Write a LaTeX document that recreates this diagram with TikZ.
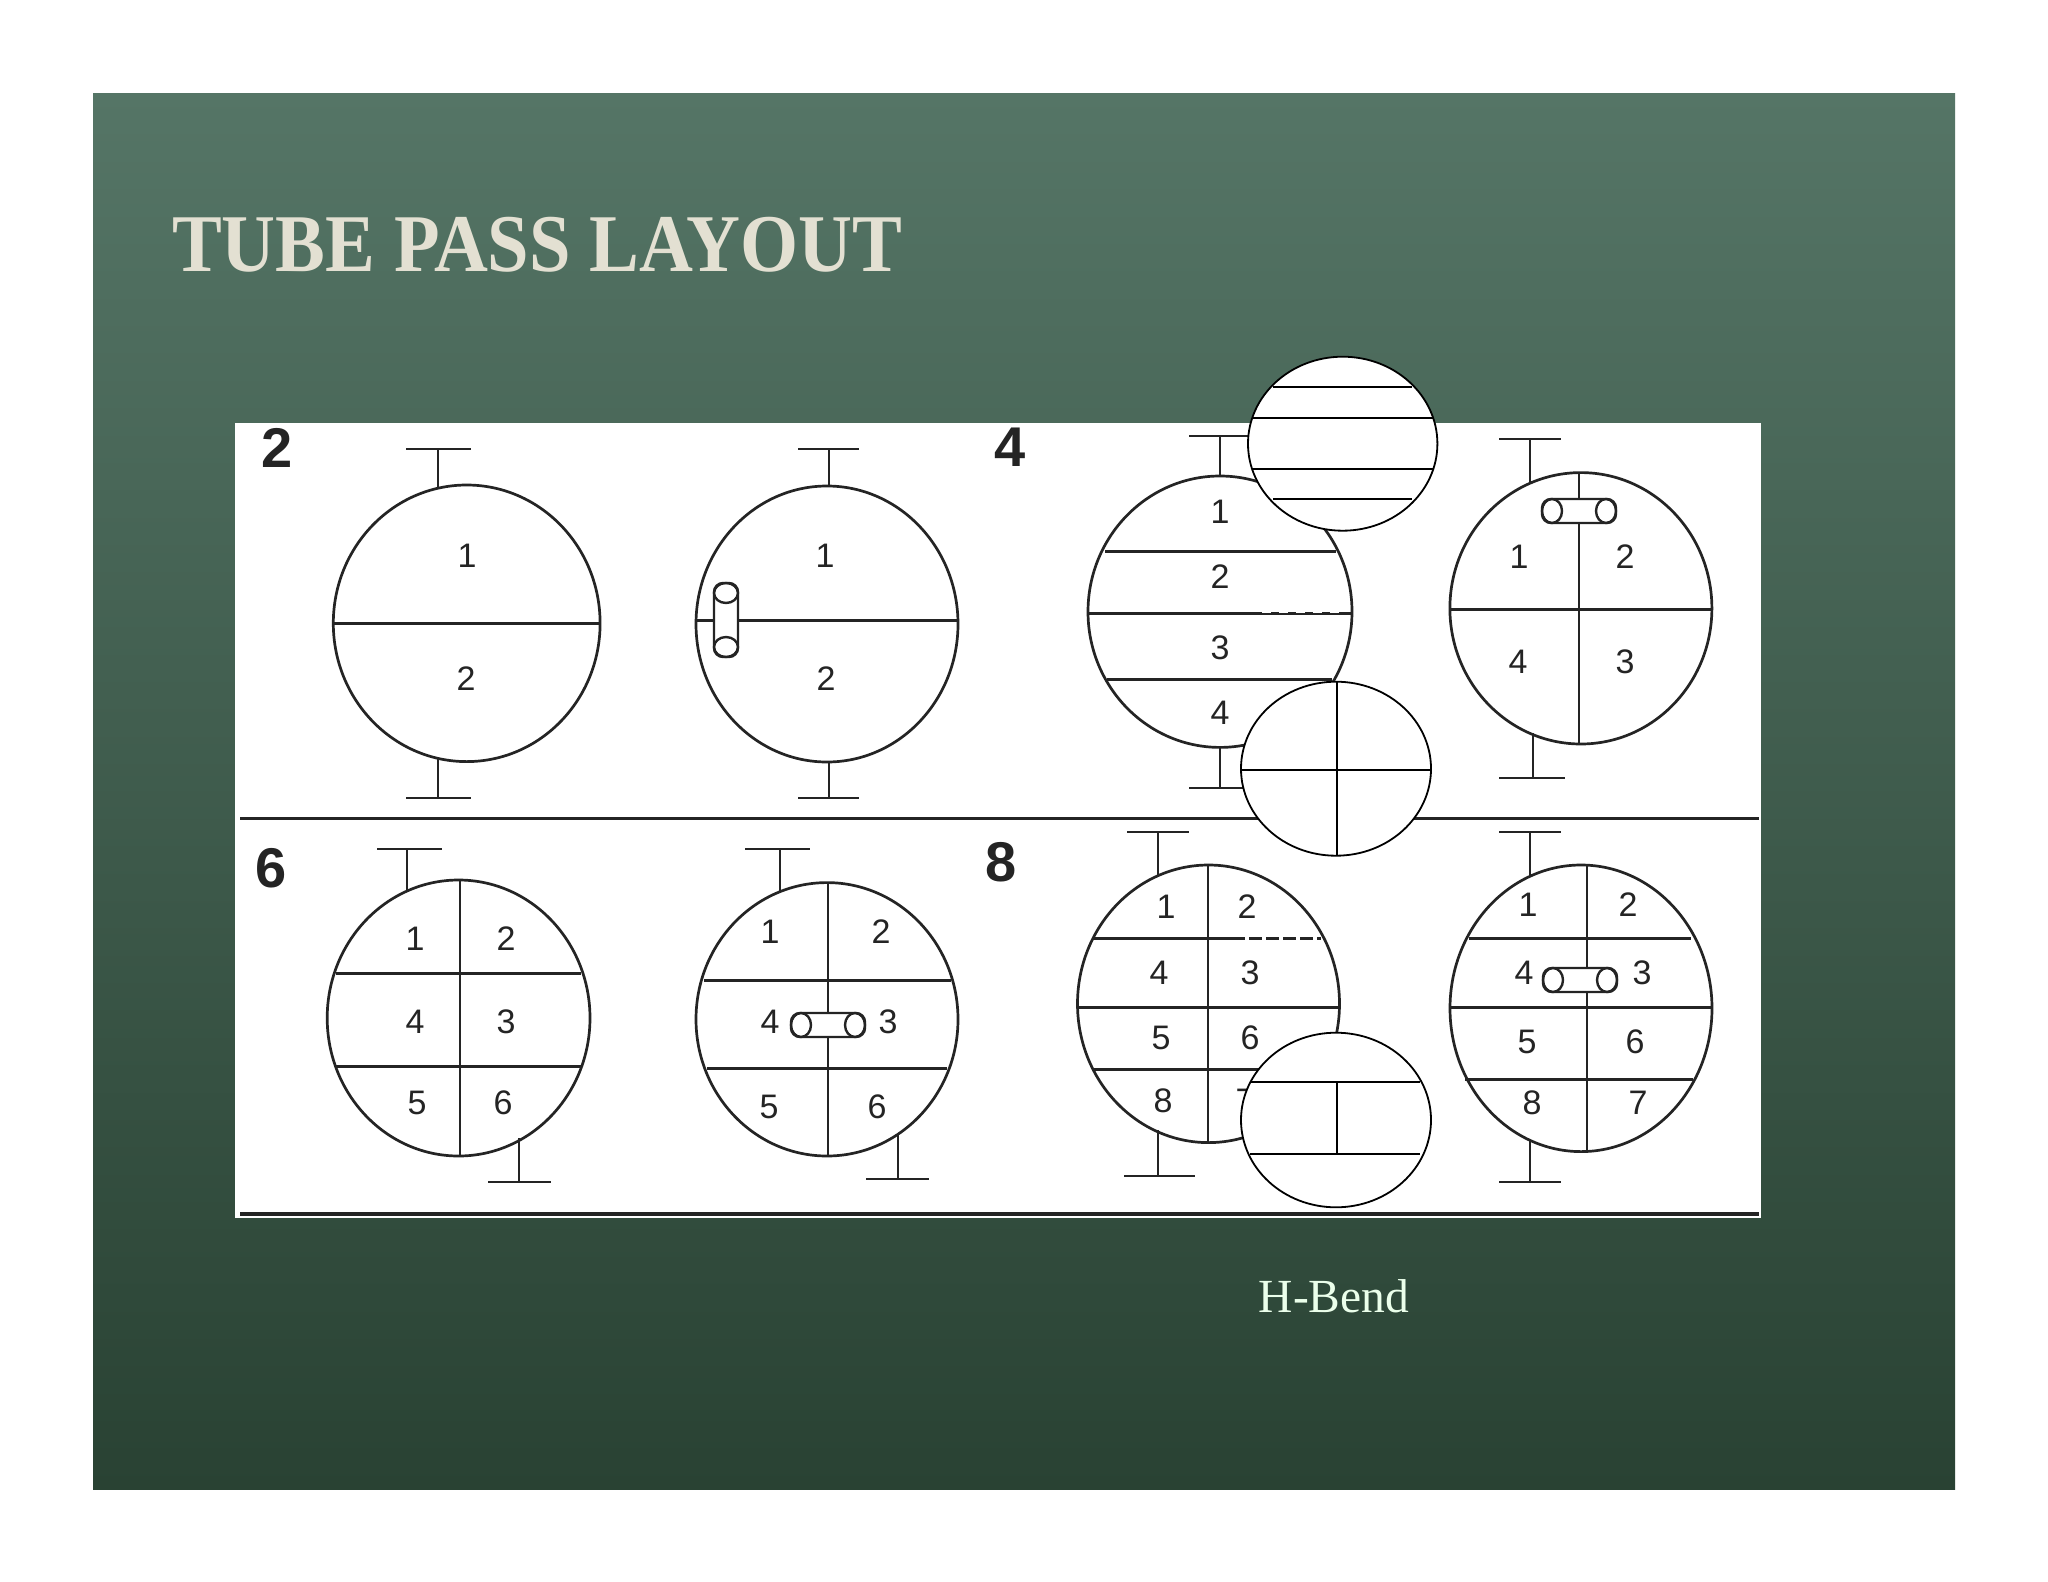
\documentclass[tikz,border=0pt]{standalone}
\usepackage{fontspec}
\setmainfont{Liberation Serif}
\newfontfamily\panelfont{Liberation Sans}
\definecolor{slidetop}{HTML}{557566}
\definecolor{slidemid}{HTML}{3B5E49}
\definecolor{slidebot}{HTML}{294233}
\definecolor{titlecream}{HTML}{E3E0D2}
\definecolor{inkgray}{HTML}{242424}

\begin{document}
\begin{tikzpicture}[
  x=1pt,
  y=-1pt,
  shell/.style={
    draw=inkgray,
    line width=2.7pt
  },
  baffle/.style={
    draw=inkgray,
    line width=3pt
  },
  partition/.style={
    draw=inkgray,
    line width=2.4pt
  },
  flange/.style={
    draw=inkgray,
    line width=2.6pt
  },
  rule/.style={
    draw=inkgray,
    line width=3pt
  },
  patch/.style={
    draw=black,
    fill=white,
    line width=1.8pt
  },
  patchline/.style={
    draw=black,
    line width=1.8pt
  },
  ghost/.style={
    draw=white,
    line width=2pt,
    dash pattern=on 9pt off 8pt
  },
  passno/.style={
    inner sep=0pt,
    text=inkgray,
    font=\panelfont\fontsize{34}{36}\selectfont
  },
  countno/.style={
    inner sep=0pt,
    text=inkgray,
    font=\panelfont\bfseries\fontsize{56}{60}\selectfont
  },
  pics/bend/.style={
    code={
      \draw[partition, fill=white, rounded corners=9pt] (-37,-12) rectangle (37,12);
      \draw[partition] (-27,0) ellipse [x radius=10, y radius=12];
      \draw[partition] (27,0) ellipse [x radius=10, y radius=12];
    }
  },
]
\fill[white] (0,0) rectangle (2048,1582);
\shade[top color=slidetop, middle color=slidemid, bottom color=slidebot]
  (93,93) rectangle (1955,1489);
\node[anchor=west, inner sep=0pt, text=titlecream, font=\bfseries\fontsize{82}{90}\selectfont]
  (title) at (172,245) {\scalebox{.91}[1]{TUBE PASS LAYOUT}};
\node[inner sep=0pt, text=white!92!green, font=\fontsize{47.5}{50}\selectfont]
  (hbend) at (1334,1296) {H-Bend};

\fill[white] (235,423) rectangle (1761,1218);
\draw[rule] (240,818) -- (1759,818);
\draw[rule, line width=4pt] (240,1214) -- (1759,1214);

\foreach \cx/\cy/\rx/\ry in {
  466.7/623.3/133.4/138.3, 827/624/131/138, 1220/611.7/132/135.7, 1580.9/608.3/131/135.7,
  458.6/1018/131.4/138, 827/1019.3/131/136.7, 1208.5/1003.8/131/138.8, 1581/1008.3/131/143.3
}
  \draw[shell] (\cx,\cy) ellipse [x radius=\rx, y radius=\ry];

\foreach \xa/\xb/\yy in {
  333/600/623, 697/958/620,
  1105/1336/551, 1088/1352/613, 1107/1332/679,
  1450/1712/609,
  336/581/973, 336/581/1066,
  704/951/980, 707/947/1068,
  1092/1321/938, 1079/1338/1007, 1094/1322/1069,
  1469/1691/938, 1450/1712/1007, 1465/1693/1079
}
  \draw[baffle] (\xa,\yy) -- (\xb,\yy);

\foreach \xx/\ya/\yb in {
  1579/473/744, 460/880/1156, 828/883/1156, 1208/865/1143, 1587/865/1152
}
  \draw[partition] (\xx,\ya) -- (\xx,\yb);

\foreach \sx/\sa/\sb/\bl/\br in {
  438/489/449/406/471, 438/757/798/406/471,
  829/486/449/798/859, 829/762/798/798/859,
  1220/476/436/1189/1250, 1220/747/788/1189/1250,
  1530/483/439/1499/1561, 1533/733/778/1499/1565,
  407/891/849/377/442, 519/1138/1182/488/551,
  780/893/849/745/810, 898/1133/1179/866/929,
  1158/875/832/1127/1189, 1158/1130/1176/1124/1195,
  1530/875/832/1499/1561, 1530/1140/1182/1499/1561
}
  \draw[flange] (\sx,\sa) -- (\sx,\sb) (\bl,\sb) -- (\br,\sb);

\pic at (726,620) [rotate=90] {bend};
\pic at (1579,511) {bend};
\pic at (828,1025) {bend};
\pic at (1580,980) {bend};

\foreach \nx/\ny/\nt [count=\k] in {
  467/556/1, 466/679/2, 825/556/1, 826/679/2,
  1220/512/1, 1220/577/2, 1220/648/3, 1220/713/4,
  1519/557/1, 1625/557/2, 1518/662/4, 1625/662/3,
  415/939/1, 506/939/2, 415/1022/4, 506/1022/3, 417/1103/5, 503/1103/6,
  770/932/1, 881/932/2, 770/1022/4, 888/1022/3, 769/1107/5, 877/1107/6,
  1166/907/1, 1247/907/2, 1159/973/4, 1250/973/3, 1161/1038/5, 1250/1038/6, 1163/1101/8, 1245/1101/7,
  1528/905/1, 1628/905/2, 1524/973/4, 1642/973/3, 1527/1042/5, 1635/1042/6, 1532/1103/8, 1638/1103/7
}
  \node[passno] (pass\k) at (\nx,\ny) {\nt};

\foreach \nx/\ny/\nt [count=\k] in {
  277/448/2, 1010/447/4, 271/868/6, 1001/862/8
}
  \node[countno] (count\k) at (\nx,\ny) {\nt};

\draw[ghost] (1262,611.8) -- (1346,611.8);
\draw[ghost, line width=4pt, dash pattern=on 4pt off 13pt] (1245,938) -- (1325,938);

\draw[patch] (1342.7,443.7) ellipse [x radius=94.7, y radius=87];
\draw[patchline] (1273,387) -- (1412,387);
\draw[patchline] (1252,418) -- (1433,418);
\draw[patchline] (1252,469) -- (1433,469);
\draw[patchline] (1273,499) -- (1412,499);

\draw[patch] (1336,768.7) ellipse [x radius=95, y radius=87];
\draw[patchline] (1241,770) -- (1432,770);
\draw[patchline] (1337,682) -- (1337,856);

\draw[patch] (1336,1120) ellipse [x radius=95, y radius=87.3];
\draw[patchline] (1250,1082) -- (1420,1082);
\draw[patchline] (1250,1154) -- (1420,1154);
\draw[patchline] (1337,1082) -- (1337,1154);
\end{tikzpicture}
\end{document}
